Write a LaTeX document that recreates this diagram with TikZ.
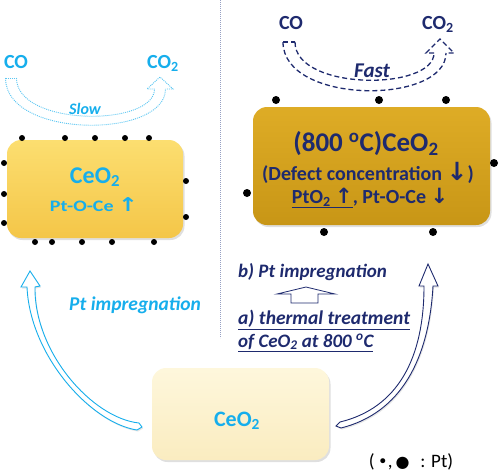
\documentclass[tikz,border=0pt]{standalone}
\usepackage{fontspec}
\setmainfont{Carlito}
\newfontfamily\djv{DejaVu Sans}
\usetikzlibrary{shadows}
\definecolor{cyanc}{RGB}{22,174,236}
\definecolor{navyc}{RGB}{30,42,110}
\definecolor{goldA}{RGB}{252,222,112}
\definecolor{goldB}{RGB}{244,198,72}
\definecolor{darkA}{RGB}{222,172,38}
\definecolor{darkB}{RGB}{200,150,22}
\definecolor{creamA}{RGB}{254,247,220}
\definecolor{creamB}{RGB}{250,236,192}
\definecolor{sepc}{RGB}{150,160,195}
\newcommand\mysub[1]{\textsubscript{#1}}
\newcommand\fsz[1]{\fontsize{#1}{#1}\selectfont}
\begin{document}
\begin{tikzpicture}[x=1pt,y=-1pt,
  box/.style={rounded corners=14pt, draw=none, inner sep=0pt,
    drop shadow={opacity=0.25,shadow xshift=1.5pt,shadow yshift=-2pt}},
  lbl/.style={inner sep=0pt},
  ctext/.style={lbl, text=cyanc, font=\bfseries},
  ntext/.style={lbl, text=navyc, font=\bfseries},
  dotS/.style={fill=black},
  slowline/.style={cyanc!70, dash pattern=on 1pt off 1pt, line width=0.9pt},
  fastline/.style={navyc, dash pattern=on 5pt off 3pt, line width=1.3pt},
  bigarrow/.style={fill=white, line width=0.9pt,
    drop shadow={opacity=0.2,shadow xshift=1pt,shadow yshift=-1.5pt}},
]
\useasboundingbox (0,0) rectangle (500,472);

% separator
\coordinate (sepT) at (220,0);
\coordinate (sepB) at (220,338);
\draw[sepc, dash pattern=on 0.8pt off 1.2pt, line width=0.8pt] (sepT) -- (sepB);

% boxes
\node[box, top color=goldA, bottom color=goldB, minimum width=176pt, minimum height=98pt] (lbox) at (95,189) {};
\node[box, top color=darkA, bottom color=darkB, minimum width=237pt, minimum height=118pt] (rbox) at (371.5,166) {};
\node[box, top color=creamA, bottom color=creamB, minimum width=177pt, minimum height=92pt] (bbox) at (240.5,414) {};

% left box text
\node[ctext, font=\bfseries\fsz{24}] (lt1) at (95,177) {CeO\mysub{2}};
\node[ctext, font=\bfseries\fsz{16}] (lt2) at (94,205) {\scalebox{1.25}[1]{Pt-O-Ce {\djv\fsz{19}↑}}};

% right box text
\node[ntext, font=\bfseries\fsz{27}] (rt1) at (366,144) {(800 \textsuperscript{o}C)CeO\mysub{2}};
\node[ntext, font=\bfseries\fsz{20}] (rt2) at (368,173) {(Defect concentration {\djv\bfseries\fsz{25}↓})};
\node[ntext, font=\bfseries\fsz{20}] (rt3) at (370,198) {\underline{PtO\mysub{2} {\djv\fsz{21}↑}}, Pt-O-Ce {\djv\fsz{21}↓}};

% bottom box text
\node[ctext, font=\bfseries\fsz{22}] (bt) at (237,421) {CeO\mysub{2}};

% Pt dots, left box
\foreach \x in {22,65,95,125,149} \fill[dotS] (\x,138) circle[radius=3pt];
\foreach \y in {163,194,223} \fill[dotS] (4,\y) circle[radius=3pt];
\foreach \y in {181,217} \fill[dotS] (186,\y) circle[radius=3pt];
\foreach \x in {35,52,82,112,154} \fill[dotS] (\x,242) circle[radius=3pt];
% Pt dots, right box
\foreach \x in {276,379,446} \fill[dotS] (\x,100) circle[radius=4pt];
\fill[dotS] (494,163) circle[radius=4pt];
\fill[dotS] (247,193) circle[radius=4pt];
\foreach \x in {324,433} \fill[dotS] (\x,232) circle[radius=4pt];

% slow reaction (left)
\node[ctext, font=\bfseries\fsz{20}] (coL) at (16,62) {CO};
\node[ctext, font=\bfseries\fsz{20}] (co2L) at (163,63) {CO\mysub{2}};
\node[ctext, font=\bfseries\itshape\fsz{16}] (slow) at (85,109) {Slow};
\coordinate (s1o) at (5.5,78);  \coordinate (s1i) at (16.5,78);
\coordinate (s2o) at (165.5,89); \coordinate (s2i) at (154.5,89);
\draw[slowline] (s1o) .. controls (5.5,139) and (165.5,139) .. (s2o);
\draw[slowline] (s1i) .. controls (16.5,127) and (154.5,127) .. (s2i);
\draw[slowline] (s1o) -- (s1i);
\draw[slowline] (s2i) -- (147,89) -- (160,77) -- (173,89) -- (s2o);

% fast reaction (right)
\node[ntext, font=\bfseries\fsz{20}] (coR) at (291,23) {CO};
\node[ntext, font=\bfseries\fsz{20}] (co2R) at (438,24) {CO\mysub{2}};
\node[ntext, font=\bfseries\itshape\fsz{21}] (fast) at (372,71) {Fast};
\coordinate (f1o) at (283,42);  \coordinate (f1i) at (295,42);
\coordinate (f2o) at (446,53);  \coordinate (f2i) at (434,53);
\draw[fastline] (f1o) .. controls (283,105) and (446,105) .. (f2o);
\draw[fastline] (f1i) .. controls (295,91) and (434,91) .. (f2i);
\draw[fastline] (f1o) -- (f1i);
\draw[fastline] (f2i) -- (426,53) -- (440,39) -- (454,53) -- (f2o);

% left big arrow (Pt impregnation)
\draw[bigarrow, draw=cyanc] (27,287) -- (21,287) -- (30,271) -- (40,286) -- (35,287)
  .. controls (34,352) and (92,418) .. (139,423) -- (142,427) -- (137,430)
  .. controls (91,423) and (30,356) .. (27,287) -- cycle;
\node[ctext, font=\bfseries\itshape\fsz{19.5}] (pL) at (135,305) {Pt impregnation};

% right big arrow
\draw[bigarrow, draw=navyc] (424,286) -- (419,286) -- (428,264) -- (438,286) -- (433,286)
  .. controls (429,359) and (401,413) .. (341,428) -- (336,426) -- (340,422)
  .. controls (398,408) and (424,358) .. (424,286) -- cycle;

% right side steps
\node[ntext, font=\bfseries\itshape\fsz{19}, anchor=west] (bT) at (238,272) {b) Pt impregnation};
\node[ntext, font=\bfseries\itshape\fsz{19.5}, anchor=west] (aT1) at (238,320) {\underline{a) thermal treatment}};
\node[ntext, font=\bfseries\itshape\fsz{19}, anchor=west] (aT2) at (238,343) {\underline{of CeO\mysub{2} at 800 \textsuperscript{o}C}};
\draw[navyc, fill=white, line width=0.8pt] (291,303) -- (291,294) -- (277,294) -- (306,287)
  -- (335,294) -- (318,294) -- (318,303) -- cycle;

% legend
\node[lbl, font=\fsz{19}] (leg) at (411,462) {(\,{\djv\fsz{17}•},\,{\djv\fsz{16}●}\,\, : Pt)};
\end{tikzpicture}
\end{document}
